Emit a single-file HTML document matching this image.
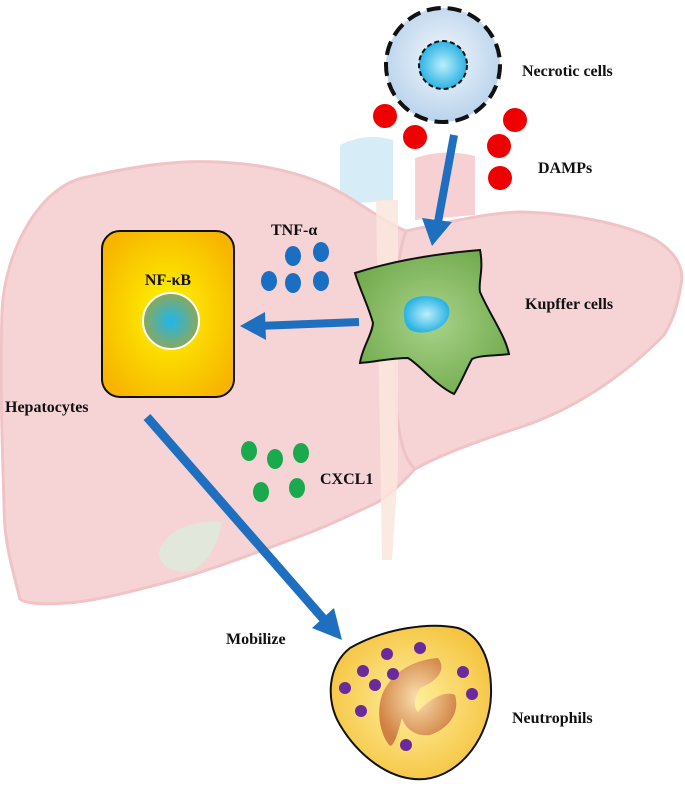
<!DOCTYPE html>
<html><head><meta charset="utf-8"><style>
html,body{margin:0;padding:0;background:#fff;}
svg text{font-family:"Liberation Serif",serif;font-weight:bold;fill:#111;}
</style></head><body>
<svg width="685" height="783" viewBox="0 0 685 783" xmlns="http://www.w3.org/2000/svg">
<defs>
<radialGradient id="nec" cx="50%" cy="45%" r="55%"><stop offset="0" stop-color="#f2f7fc"/><stop offset="1" stop-color="#b9d3ec"/></radialGradient>
<radialGradient id="nuc" cx="50%" cy="50%" r="50%"><stop offset="0" stop-color="#bdeefc"/><stop offset="1" stop-color="#2bb3e3"/></radialGradient>
<radialGradient id="hep" cx="50%" cy="50%" r="60%"><stop offset="0" stop-color="#fff700"/><stop offset="1" stop-color="#f7b500"/></radialGradient>
<radialGradient id="nfk" cx="50%" cy="50%" r="50%"><stop offset="0" stop-color="#1eb6ef"/><stop offset="1" stop-color="#8ba85a"/></radialGradient>
<radialGradient id="kup" cx="50%" cy="50%" r="60%"><stop offset="0" stop-color="#a9d38a"/><stop offset="1" stop-color="#6fa84a"/></radialGradient>
<radialGradient id="neu" cx="50%" cy="50%" r="55%"><stop offset="0" stop-color="#fff0a0"/><stop offset="1" stop-color="#f5c440"/></radialGradient>
<radialGradient id="neun" cx="50%" cy="45%" r="55%"><stop offset="0" stop-color="#fbe0b0"/><stop offset="1" stop-color="#d08040"/></radialGradient>
</defs>
<!-- vessels -->
<path d="M340,145 Q366,132 393,140 L393,200 L340,205 Z" fill="#d6ecf7"/>
<path d="M415,158 Q445,148 475,156 L475,215 L415,220 Z" fill="#f6d0d2"/>
<!-- liver -->
<path d="M2,311 C5,250 40,185 87,177 C140,165 180,160 218,162 C280,165 320,180 345,195 C370,210 390,225 406,231 C450,222 490,212 524,212 C580,214 630,226 656,240 C675,252 685,268 681,285 C678,305 672,322 664,335 C620,380 570,410 524,426 C480,440 440,455 415,469 C400,485 390,495 376,503 C350,515 330,525 306,534 C250,555 210,570 175,580 C130,592 90,602 66,603 C40,605 25,603 20,599 C10,560 4,540 4,503 C2,440 0,380 2,311 Z" fill="#f6d4d6" stroke="#f0c4c6" stroke-width="3"/>
<path d="M406,231 C395,260 392,330 396,400 C398,440 405,460 415,469" fill="none" stroke="#f0c2c5" stroke-width="3"/>
<path d="M376,200 L398,200 L398,470 L392,560 L382,560 Z" fill="#fae6dc" opacity="0.85"/>
<path d="M160,548 C170,528 195,520 222,522 C218,545 205,570 185,572 C168,572 156,562 160,548 Z" fill="#dcebdc" opacity="0.8"/>
<!-- necrotic cell -->
<circle cx="443" cy="65" r="57" fill="url(#nec)" stroke="#111" stroke-width="4" stroke-dasharray="14,7"/>
<circle cx="443" cy="65" r="24" fill="url(#nuc)" stroke="#111" stroke-width="2" stroke-dasharray="5,3"/>
<text x="522" y="76" font-size="16">Necrotic cells</text>
<!-- DAMPs -->
<g fill="#ee0000"><circle cx="385" cy="116" r="12"/><circle cx="415" cy="137" r="12"/><circle cx="515" cy="120" r="12"/><circle cx="499" cy="146" r="12"/><circle cx="500" cy="178" r="12"/></g>
<text x="538" y="173" font-size="16">DAMPs</text>
<!-- arrow down -->
<line x1="454" y1="135" x2="438" y2="222" stroke="#1f6fc0" stroke-width="8"/>
<polygon points="432,246 422,218 452,222" fill="#1f6fc0"/>
<!-- hepatocyte -->
<rect x="102" y="231" width="132" height="166" rx="18" fill="url(#hep)" stroke="#111" stroke-width="2"/>
<circle cx="171" cy="321" r="28" fill="url(#nfk)" stroke="#fff" stroke-width="2"/>
<text x="168" y="285" font-size="16" text-anchor="middle">NF-κB</text>
<text x="5" y="412" font-size="16">Hepatocytes</text>
<!-- TNF -->
<text x="271" y="235" font-size="16">TNF-α</text>
<g fill="#1a6fc2"><ellipse cx="293" cy="256" rx="8" ry="10"/><ellipse cx="321" cy="252" rx="8" ry="10"/><ellipse cx="269" cy="281" rx="8" ry="10"/><ellipse cx="293" cy="283" rx="8" ry="10"/><ellipse cx="321" cy="281" rx="8" ry="10"/></g>
<!-- kupffer -->
<path d="M355,273 C380,265 420,255 480,250 C484,270 478,282 480,292 C490,315 505,335 509,354 C495,356 480,355 472,359 C465,372 460,385 454,394 C435,385 420,365 408,358 C390,358 375,362 360,363 C362,348 372,335 373,323 C368,305 360,290 355,273 Z" fill="url(#kup)" stroke="#111" stroke-width="2"/>
<path d="M404,312 C404,298 420,293 438,298 C452,302 452,316 444,324 C434,334 418,334 410,330 C404,325 404,318 404,312 Z" fill="url(#nuc)"/>
<text x="525" y="309" font-size="16">Kupffer cells</text>
<!-- horizontal arrow -->
<line x1="359" y1="322" x2="258" y2="326" stroke="#1f6fc0" stroke-width="8"/>
<polygon points="240,326 265,312 266,340" fill="#1f6fc0"/>
<!-- CXCL1 -->
<g fill="#1aa94c"><ellipse cx="249" cy="451" rx="8" ry="10"/><ellipse cx="275" cy="459" rx="8" ry="10"/><ellipse cx="301" cy="453" rx="8" ry="10"/><ellipse cx="261" cy="492" rx="8" ry="10"/><ellipse cx="297" cy="488" rx="8" ry="10"/></g>
<text x="320" y="484" font-size="16">CXCL1</text>
<!-- diagonal arrow -->
<line x1="147" y1="417" x2="327" y2="623" stroke="#1f6fc0" stroke-width="9"/>
<polygon points="342,640 312,628 334,608" fill="#1f6fc0"/>
<text x="226" y="644" font-size="16">Mobilize</text>
<!-- neutrophil -->
<path d="M350,648 C385,628 430,622 458,628 C480,635 492,660 491,695 C490,735 462,775 425,779 C390,782 358,755 340,725 C325,700 328,665 350,648 Z" fill="url(#neu)" stroke="#111" stroke-width="2"/>
<path d="M382,695 C390,675 410,660 438,658 C446,668 440,680 420,688 C415,700 412,705 418,712 C428,700 445,690 455,695 C460,712 450,728 430,735 C415,737 405,728 402,718 C398,732 395,745 390,746 C380,735 376,712 382,695 Z" fill="url(#neun)"/>
<g fill="#6a2a9c"><circle cx="387" cy="654" r="6"/><circle cx="420" cy="648" r="6"/><circle cx="363" cy="671" r="6"/><circle cx="393" cy="674" r="6"/><circle cx="375" cy="685" r="6"/><circle cx="345" cy="688" r="6"/><circle cx="463" cy="672" r="6"/><circle cx="472" cy="694" r="6"/><circle cx="361" cy="711" r="6"/><circle cx="406" cy="745" r="6"/></g>
<text x="512" y="723" font-size="16">Neutrophils</text>
</svg>
</body></html>
